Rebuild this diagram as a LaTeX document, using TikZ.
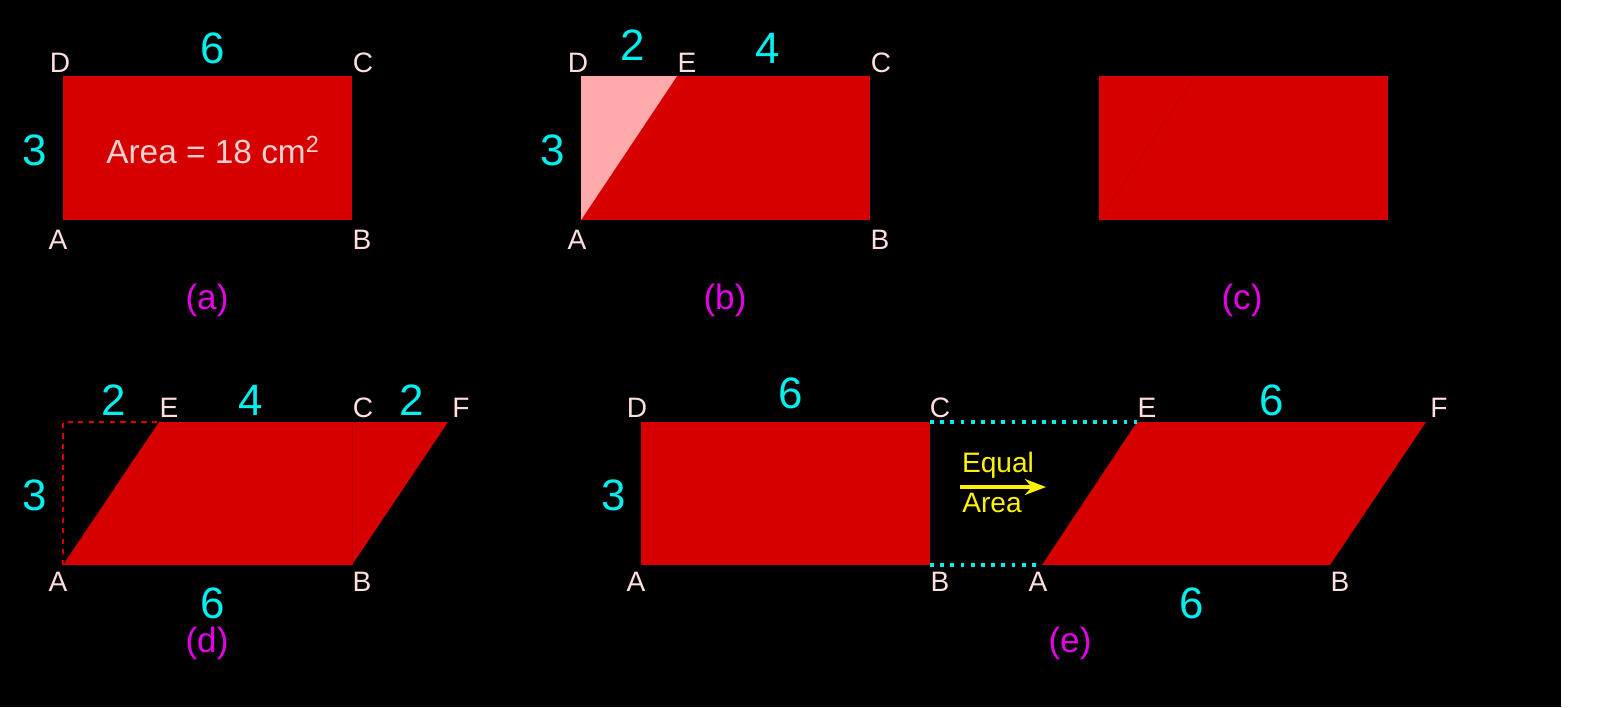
\documentclass[tikz,border=0pt]{standalone}
\usepackage{fontspec}
\setmainfont{Liberation Sans}
\usetikzlibrary{arrows.meta}
\begin{document}
\begin{tikzpicture}[x=0.02cm,y=-0.02cm,
  lab/.style={text=lbl,font=\fontsize{16}{16}\selectfont,inner sep=0pt},
  num/.style={text=cy,font=\fontsize{25}{25}\selectfont,inner sep=0pt},
  captxt/.style={text=mg,font=\fontsize{20}{20}\selectfont,inner sep=0pt},
  shp/.style={fill=rd,draw=none}]
\definecolor{rd}{RGB}{214,0,0}
\definecolor{lbl}{RGB}{255,222,222}
\definecolor{cy}{RGB}{0,240,240}
\definecolor{mg}{RGB}{230,0,230}
\definecolor{pk}{RGB}{255,170,170}
\fill[white] (0,0) rectangle (1600,707);
\fill[black] (0,0) rectangle (1561,707);
\useasboundingbox (0,0) rectangle (1600,707);
% (a)
\fill[shp] (63,76) rectangle (352,220);
\node[lab] (aD) at (60,63) {D}; \node[lab] (aC) at (363,63) {C};
\node[lab] (aA) at (58,240) {A}; \node[lab] (aB) at (362,240) {B};
\node[num] (a6) at (213,48) {6}; \node[num] (a3) at (35,150) {3};
\node[text=pk!55!white,font=\fontsize{19}{19}\selectfont] (area) at (213,150) {Area = 18 cm\textsuperscript{2}};
\node[captxt] (ca) at (207,300) {(a)};
% (b)
\fill[shp] (581,76) rectangle (870,220);
\fill[pk] (581,76) -- (677,76) -- (581,220) -- cycle;
\node[lab] (bD) at (578,63) {D}; \node[lab] (bE) at (687,63) {E}; \node[lab] (bC) at (881,63) {C};
\node[lab] (bA) at (577,240) {A}; \node[lab] (bB) at (880,240) {B};
\node[num] (b2) at (633,45) {2}; \node[num] (b4) at (768,48) {4}; \node[num] (b3) at (553,150) {3};
\node[captxt] (cb) at (725,300) {(b)};
% (c)
\fill[shp] (1099,76) rectangle (1388,220);
\draw[rd!90!black,line width=0.3pt] (1099,220) -- (1195,76);
\node[captxt] (cc) at (1242,300) {(c)};
% (d)
\fill[shp] (63,565) -- (159,422) -- (352,422) -- (352,565) -- cycle;
\fill[shp] (352,422) -- (448,422) -- (352,565) -- cycle;
\draw[rd!85!black,line width=0.4pt] (352,422) -- (352,565);
\draw[rd,dashed,line width=1pt] (63,565) -- (63,422) -- (159,422);
\node[num] (d2a) at (114,400) {2}; \node[lab] (dE) at (169,408) {E};
\node[num] (d4) at (251,400) {4}; \node[lab] (dC) at (363,408) {C};
\node[num] (d2b) at (412,400) {2}; \node[lab] (dF) at (461,408) {F};
\node[num] (d3) at (35,495) {3}; \node[lab] (dA) at (58,582) {A};
\node[num] (d6) at (213,603) {6}; \node[lab] (dB) at (362,582) {B};
\node[captxt] (cd) at (207,643) {(d)};
% (e)
\fill[shp] (641,422) rectangle (930,565);
\coordinate (eC) at (930,422); \coordinate (eB) at (930,565);
\coordinate (eE) at (1137,422); \coordinate (eA) at (1042,565);
\fill[shp] (eA) -- (eE) -- (1426,422) -- (1330,565) -- cycle;
\draw[cy,line width=2.2pt,dash pattern=on 2.2pt off 3.6pt] (eC) -- (eE);
\draw[cy,line width=2.2pt,dash pattern=on 2.2pt off 3.6pt] (eB) -- (eA);
\node[lab] (eDl) at (637,408) {D}; \node[lab] (eCl) at (940,408) {C};
\node[num] (e6a) at (791,393) {6}; \node[num] (e3) at (614,495) {3};
\node[lab] (eAl) at (636,582) {A}; \node[lab] (eBl) at (940,582) {B};
\node[lab] (eEl) at (1147,408) {E}; \node[num] (e6b) at (1272,400) {6};
\node[lab] (eFl) at (1439,408) {F}; \node[lab] (eA2) at (1038,582) {A};
\node[num] (e6c) at (1192,603) {6}; \node[lab] (eB2) at (1340,582) {B};
\coordinate (ar1) at (960,487); \coordinate (ar2) at (1046,487);
\draw[yellow,line width=2pt,-{Stealth[length=12pt,width=9pt]}] (ar1) -- (ar2);
\node[text=yellow,font=\fontsize{16}{16}\selectfont] (eq) at (998,465) {Equal};
\node[text=yellow,font=\fontsize{16}{16}\selectfont] (ea) at (992,503) {Area};
\node[captxt] (ce) at (1070,643) {(e)};
\end{tikzpicture}
\end{document}
